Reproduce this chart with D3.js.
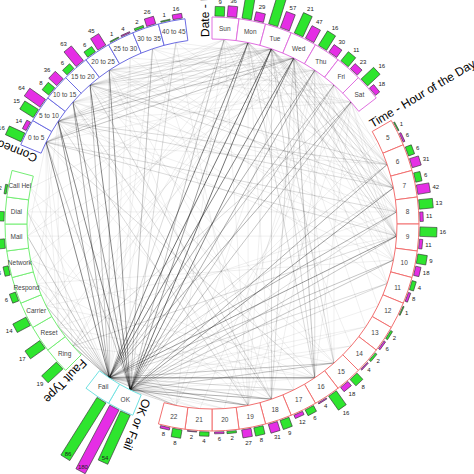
<!DOCTYPE html>
<html>
<head>
<meta charset="utf-8">
<script src="https://cdn.jsdelivr.net/npm/d3@7/dist/d3.min.js"></script>
<style>
	body { margin: 0; background: #fff; }
	svg { display: block; font-family: "Liberation Sans", Arial, sans-serif; }
</style>
</head>
<body>
<div id="chart"></div>
<script>
// group titles, clockwise from the top
var groupTitles = ["Date - Day of the Week", "Time - Hour of the Day", "OK or Fail", "Fault Type", "Connection Length"];

var dayLabels = ["Sun", "Mon", "Tue", "Wed", "Thu", "Fri", "Sat"];
var dayGreen = [9, 26, 30, 21, 16, 11, 16];
var dayMagenta = [36, 29, 57, 47, 30, 23, 18];

var hourLabels = ["5", "6", "7", "8", "9", "10", "11", "12", "13", "14", "15", "16", "17", "18", "19", "20", "21", "22"];
var hourGreen = [1, 6, 6, 13, 16, 9, 4, 1, 2, 2, 8, 16, 6, 9, 8, 2, 4, 8];
var hourMagenta = [6, 31, 42, 11, 11, 18, 8, 0, 6, 4, 18, 4, 12, 31, 27, 6, 2, 8];

var okLabels = ["OK", "Fail"];
var okGreen = [54, 86];
var okMagenta = [180, 0];

var faultLabels = ["Ring", "Reset", "Carrier", "Respond", "Network", "Mail", "Dial", "Call Hel"];
var faultGreen = [19, 17, 14, 6, 5, 12, 11, 2];
var faultMagenta = [0, 0, 0, 0, 0, 0, 0, 0];

var connLabels = ["0 to 5", "5 to 10", "10 to 15", "15 to 20", "20 to 25", "25 to 30", "30 to 35", "40 to 45"];
var connGreen = [16, 15, 8, 6, 6, 1, 2, 1];
var connMagenta = [14, 64, 36, 63, 45, 4, 26, 16];

// links between categories: [from, to, strength]
var links = [
	// OK / Fail - day
	["Fail","Sun",2],["Fail","Mon",6],["Fail","Tue",7],["Fail","Wed",6],["Fail","Thu",4],["Fail","Fri",3],["Fail","Sat",4],
	["OK","Sun",3],["OK","Mon",5],["OK","Tue",7],["OK","Wed",6],["OK","Thu",4],["OK","Fri",3],["OK","Sat",3],
	// OK / Fail - connection
	["Fail","0 to 5",6],["Fail","5 to 10",5],["Fail","10 to 15",4],["Fail","15 to 20",3],["Fail","20 to 25",3],["Fail","25 to 30",1],["Fail","30 to 35",1],["Fail","40 to 45",1],
	["OK","0 to 5",3],["OK","5 to 10",6],["OK","10 to 15",5],["OK","15 to 20",6],["OK","20 to 25",5],["OK","25 to 30",1],["OK","30 to 35",3],["OK","40 to 45",2],
	// OK / Fail - hour
	["Fail","6",2],["Fail","7",2],["Fail","8",4],["Fail","9",5],["Fail","10",3],["Fail","11",2],["Fail","13",1],["Fail","14",1],["Fail","15",3],
	["Fail","16",6],["Fail","17",2],["Fail","18",3],["Fail","19",3],["Fail","20",1],["Fail","21",1],["Fail","22",3],
	["OK","5",1],["OK","6",4],["OK","7",5],["OK","8",2],["OK","9",3],["OK","10",3],["OK","11",2],["OK","12",1],["OK","13",1],["OK","14",1],
	["OK","15",3],["OK","16",1],["OK","17",2],["OK","18",4],["OK","19",4],["OK","20",1],["OK","21",1],["OK","22",2],
	// Fail - fault type
	["Fail","Call Hel",1],["Fail","Dial",2],["Fail","Mail",3],["Fail","Network",2],["Fail","Respond",2],["Fail","Carrier",3],["Fail","Reset",4],["Fail","Ring",4],
	// day - hour
	["Sun","8",1],["Sun","10",1],["Sun","14",1],["Sun","19",1],["Sun","22",1],
	["Mon","6",1],["Mon","7",2],["Mon","9",2],["Mon","11",1],["Mon","15",1],["Mon","16",2],["Mon","18",1],["Mon","19",1],
	["Tue","6",2],["Tue","7",2],["Tue","8",2],["Tue","9",2],["Tue","10",1],["Tue","13",1],["Tue","15",2],["Tue","16",2],["Tue","18",2],["Tue","19",1],
	["Wed","5",1],["Wed","6",1],["Wed","7",2],["Wed","9",2],["Wed","10",1],["Wed","12",1],["Wed","15",1],["Wed","16",3],["Wed","17",1],["Wed","18",2],["Wed","22",1],
	["Thu","6",1],["Thu","8",1],["Thu","9",1],["Thu","11",1],["Thu","16",2],["Thu","19",1],["Thu","20",1],
	["Fri","7",1],["Fri","9",1],["Fri","15",1],["Fri","18",1],["Fri","21",1],
	["Sat","6",1],["Sat","9",1],["Sat","10",1],["Sat","16",1],["Sat","19",1],["Sat","22",1],
	// day - connection
	["Sun","0 to 5",1],["Sun","5 to 10",1],["Sun","15 to 20",1],
	["Mon","0 to 5",1],["Mon","5 to 10",2],["Mon","10 to 15",1],["Mon","15 to 20",2],["Mon","20 to 25",1],
	["Tue","0 to 5",2],["Tue","5 to 10",2],["Tue","10 to 15",1],["Tue","15 to 20",2],["Tue","20 to 25",2],["Tue","30 to 35",1],
	["Wed","0 to 5",3],["Wed","5 to 10",3],["Wed","10 to 15",1],["Wed","15 to 20",2],["Wed","20 to 25",1],["Wed","40 to 45",1],
	["Thu","5 to 10",1],["Thu","10 to 15",1],["Thu","15 to 20",1],["Thu","25 to 30",1],
	["Fri","0 to 5",1],["Fri","15 to 20",1],["Fri","20 to 25",1],
	["Sat","5 to 10",1],["Sat","10 to 15",1],["Sat","20 to 25",1],["Sat","30 to 35",1],
	// hour - connection
	["0 to 5","6",1],["0 to 5","8",2],["0 to 5","9",2],["0 to 5","16",2],["0 to 5","18",1],
	["5 to 10","6",2],["5 to 10","7",2],["5 to 10","9",1],["5 to 10","10",1],["5 to 10","15",1],["5 to 10","19",2],
	["10 to 15","7",1],["10 to 15","8",1],["10 to 15","16",1],["10 to 15","18",2],["10 to 15","19",1],
	["15 to 20","6",2],["15 to 20","7",2],["15 to 20","9",1],["15 to 20","11",1],["15 to 20","15",1],["15 to 20","18",2],
	["20 to 25","7",1],["20 to 25","8",1],["20 to 25","10",1],["20 to 25","17",1],["20 to 25","19",1],
	["25 to 30","9",1],["30 to 35","6",1],["30 to 35","18",1],["40 to 45","7",1],["40 to 45","19",1],
	// fault type - others
	["Ring","Mon",1],["Ring","Tue",1],["Ring","Sat",2],["Ring","9",2],["Ring","16",1],["Ring","0 to 5",1],
	["Reset","Tue",1],["Reset","Wed",1],["Reset","8",1],["Reset","16",1],["Reset","0 to 5",1],["Reset","5 to 10",1],
	["Carrier","Mon",1],["Carrier","Wed",1],["Carrier","9",1],["Carrier","15",1],["Carrier","0 to 5",1],
	["Respond","Tue",1],["Respond","10",1],["Respond","18",1],["Respond","5 to 10",1],
	["Network","Wed",1],["Network","16",1],
	["Mail","Mon",1],["Mail","Thu",1],["Mail","9",1],["Mail","0 to 5",1],
	["Dial","Tue",1],["Dial","8",1],["Dial","22",1],
	["Call Hel","Wed",1],["Call Hel","19",1]
];

document.addEventListener("DOMContentLoaded", function() {

	var width = 474;
	var height = 474;
	var cx = 212, cy = 224;
	var rIn = 185, rOut = 207;
	var slot = Math.PI * 2 / 48;   // every box and every gap takes one slot
	var barWidth = 9.5;

	var groups = [
		{title: groupTitles[0], labels: dayLabels, green: dayGreen, magenta: dayMagenta, color: "#e070e0"},
		{title: groupTitles[1], labels: hourLabels, green: hourGreen, magenta: hourMagenta, color: "#f27070"},
		{title: groupTitles[2], labels: okLabels, green: okGreen, magenta: okMagenta, color: "#70e2e2", big: true},
		{title: groupTitles[3], labels: faultLabels, green: faultGreen, magenta: faultMagenta, color: "#74ee74"},
		{title: groupTitles[4], labels: connLabels, green: connGreen, magenta: connMagenta, color: "#6c6ce2"}
	];

	// bar length scales
	var greenScale = d3.scaleLinear().domain([0, 16]).range([0, 17]);
	var magentaScale = d3.scaleLinear().domain([0, 42]).range([0, 12.6]);
	var greenBig = d3.scaleSqrt().domain([0, 86]).range([0, 68]);
	var magentaBig = d3.scaleSqrt().domain([0, 180]).range([0, 72]);
	var linkOpacity = d3.scaleLinear().domain([1, 7]).range([0.07, 0.62]);

	//layout boxes around the circle
	var boxes = [];
	var angleOf = {};
	var s = 0;
	groups.forEach(function(g) {
		g.start = s * slot;
		g.labels.forEach(function(label, i) {
			var b = {
				label: label, group: g,
				startAngle: s * slot, endAngle: (s + 1) * slot,
				green: g.green[i], magenta: g.magenta[i]
			};
			b.mid = (b.startAngle + b.endAngle) / 2;
			angleOf[label] = b.mid;
			boxes.push(b);
			s++;
		});
		g.end = s * slot;
		s++;
	});

	function px(a, r) { return Math.sin(a) * r; }
	function py(a, r) { return -Math.cos(a) * r; }
	var deg = 180 / Math.PI;

	var svg = d3.select("#chart").append("svg")
	.attr("width", width)
	.attr("height", height);

	var root = svg.append("g")
	.attr("transform", "translate(" + cx + "," + cy + ")");

	// links
	root.append("g")
	.attr("class", "links")
	.selectAll("line")
	.data(links)
	.enter().append("line")
	.attr("x1", d => px(angleOf[d[0]], rIn))
	.attr("y1", d => py(angleOf[d[0]], rIn))
	.attr("x2", d => px(angleOf[d[1]], rIn))
	.attr("y2", d => py(angleOf[d[1]], rIn))
	.attr("stroke", "#000")
	.attr("stroke-opacity", d => linkOpacity(d[2]))
	.attr("stroke-width", 0.9);

	// boxes
	var arc = d3.arc().innerRadius(rIn).outerRadius(rOut);
	root.append("g")
	.attr("class", "boxes")
	.selectAll("path")
	.data(boxes)
	.enter().append("path")
	.attr("d", d => arc(d))
	.attr("fill", "#fff")
	.attr("stroke", d => d.group.color)
	.attr("stroke-width", 1);

	root.append("g")
	.selectAll("text")
	.data(boxes)
	.enter().append("text")
	.attr("x", d => px(d.mid, (rIn + rOut) / 2))
	.attr("y", d => py(d.mid, (rIn + rOut) / 2))
	.attr("text-anchor", "middle")
	.attr("dominant-baseline", "central")
	.attr("font-size", 6.5)
	.attr("fill", "#444")
	.text(d => d.label);

	// bars, green on the leading side of the box, magenta on the trailing side
	var bars = [];
	boxes.forEach(function(b) {
		var big = b.group.big;
		bars.push({box: b, value: b.green, color: "#2ee52e", angle: b.startAngle + 2.1 / deg,
			len: big ? greenBig(b.green) : greenScale(b.green), big: big});
		bars.push({box: b, value: b.magenta, color: "#e52ee5", angle: b.startAngle + 5.5 / deg,
			len: big ? magentaBig(b.magenta) : magentaScale(b.magenta), big: big});
	});
	bars = bars.filter(d => d.value > 0);

	root.append("g")
	.attr("class", "bars")
	.selectAll("rect")
	.data(bars)
	.enter().append("rect")
	.attr("transform", d => "rotate(" + (d.angle * deg) + ")")
	.attr("x", d => -(d.big ? 10.5 : barWidth) / 2)
	.attr("y", d => -(rOut + 1 + d.len))
	.attr("width", d => d.big ? 10.5 : barWidth)
	.attr("height", d => d.len)
	.attr("fill", d => d.color)
	.attr("stroke", "#333")
	.attr("stroke-width", 0.6);

	root.append("g")
	.attr("class", "values")
	.selectAll("text")
	.data(bars)
	.enter().append("text")
	.attr("transform", function(d) {
		var r;
		if (d.big) {
			r = rOut + d.len - 4;
		} else {
			var tw = String(d.value).length * 3.4;
			r = rOut + 1 + d.len + 2.5 + Math.abs(Math.sin(d.angle)) * tw / 2 + Math.abs(Math.cos(d.angle)) * 2.5;
		}
		return "translate(" + px(d.angle, r) + "," + py(d.angle, r) + ")";
	})
	.attr("text-anchor", "middle")
	.attr("dominant-baseline", "central")
	.attr("font-size", 6)
	.attr("fill", "#222")
	.text(d => d.value);

	// group titles run outward along the gap before each group
	root.append("g")
	.attr("class", "titles")
	.selectAll("text")
	.data(groups)
	.enter().append("text")
	.attr("transform", function(g) {
		var a = g.start - 0.015;
		return "translate(" + px(a, 187) + "," + py(a, 187) + ") rotate(" + (a * deg - 90) + ")";
	})
	.attr("font-size", 12)
	.attr("fill", "#000")
	.text(g => g.title);

});
</script>
</body>
</html>
